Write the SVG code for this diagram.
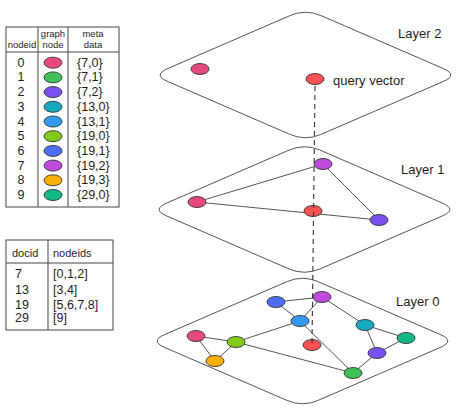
<svg xmlns="http://www.w3.org/2000/svg" width="474" height="419" viewBox="0 0 474 419">
<style>
  text { font-family: "Liberation Sans", Arial, sans-serif; fill: #1e1e1e; }
  .hdr { font-size: 9.5px; text-anchor: middle; }
  .cell { font-size: 12.5px; }
  .mid { text-anchor: middle; }
  .lbl { font-size: 13px; }
  .grid { fill: none; stroke: #444; stroke-width: 1; }
  .layer { fill: none; stroke: #555; stroke-width: 1; }
  .edge { stroke: #555; stroke-width: 1; fill: none; }
  .node { stroke: #333; stroke-width: 0.9; }
  .dash { stroke: #333; stroke-width: 1.1; stroke-dasharray: 5 4; fill: none; }
  .c0 { fill: #e64980; } .c1 { fill: #40c057; } .c2 { fill: #7950f2; }
  .c3 { fill: #15aabf; } .c4 { fill: #339af0; } .c5 { fill: #82c91e; }
  .c6 { fill: #4c6ef5; } .c7 { fill: #be4bdb; } .c8 { fill: #fab005; }
  .c9 { fill: #12b886; } .cq { fill: #fa5252; }
</style>
<defs>
  <path id="plane" d="M -15.3 -59.5 Q 0 -66 15.3 -59.5 L 137.7 -6.5 Q 153 0 137.7 6.5 L 15.3 59.5 Q 0 66 -15.3 59.5 L -137.7 6.5 Q -153 0 -137.7 -6.5 Z"/>
  <ellipse id="dot" cx="0" cy="0" rx="9" ry="5.5"/>
</defs>

<!-- node metadata table -->
<g id="node-table">
  <rect class="grid" x="6" y="27" width="113" height="180"/>
  <line class="grid" x1="38" y1="27" x2="38" y2="207"/>
  <line class="grid" x1="68" y1="27" x2="68" y2="207"/>
  <line class="grid" x1="6" y1="52" x2="119" y2="52"/>
  <text class="hdr" x="22" y="48">nodeid</text>
  <text class="hdr" x="53" y="37">graph</text>
  <text class="hdr" x="53" y="48">node</text>
  <text class="hdr" x="93" y="37">meta</text>
  <text class="hdr" x="93" y="48">data</text>
  <g class="cell">
    <text class="mid" x="21" y="67">0</text>
    <text class="mid" x="21" y="81.4">1</text>
    <text class="mid" x="21" y="96.1">2</text>
    <text class="mid" x="21" y="110.8">3</text>
    <text class="mid" x="21" y="125.5">4</text>
    <text class="mid" x="21" y="140.2">5</text>
    <text class="mid" x="21" y="154.9">6</text>
    <text class="mid" x="21" y="169.6">7</text>
    <text class="mid" x="21" y="184.3">8</text>
    <text class="mid" x="21" y="199">9</text>
    <text x="77" y="67">{7,0}</text>
    <text x="77" y="81.4">{7,1}</text>
    <text x="77" y="96.1">{7,2}</text>
    <text x="77" y="110.8">{13,0}</text>
    <text x="77" y="125.5">{13,1}</text>
    <text x="77" y="140.2">{19,0}</text>
    <text x="77" y="154.9">{19,1}</text>
    <text x="77" y="169.6">{19,2}</text>
    <text x="77" y="184.3">{19,3}</text>
    <text x="77" y="199">{29,0}</text>
  </g>
  <use href="#dot" class="node c0" x="53" y="62.7"/>
  <use href="#dot" class="node c1" x="53" y="77.4"/>
  <use href="#dot" class="node c2" x="53" y="92.1"/>
  <use href="#dot" class="node c3" x="53" y="106.8"/>
  <use href="#dot" class="node c4" x="53" y="121.5"/>
  <use href="#dot" class="node c5" x="53" y="136.2"/>
  <use href="#dot" class="node c6" x="53" y="150.9"/>
  <use href="#dot" class="node c7" x="53" y="165.6"/>
  <use href="#dot" class="node c8" x="53" y="180.3"/>
  <use href="#dot" class="node c9" x="53" y="195"/>
</g>

<!-- document table -->
<g id="doc-table">
  <rect class="grid" x="6" y="240" width="107" height="90"/>
  <line class="grid" x1="48" y1="240" x2="48" y2="330"/>
  <line class="grid" x1="6" y1="263" x2="113" y2="263"/>
  <text class="cell" x="12" y="257" style="font-size:11px">docid</text>
  <text class="cell" x="53" y="257" style="font-size:11px">nodeids</text>
  <g class="cell">
    <text x="15" y="278">7</text>
    <text x="15" y="294">13</text>
    <text x="15" y="309">19</text>
    <text x="15" y="322">29</text>
    <text x="53" y="278">[0,1,2]</text>
    <text x="53" y="294">[3,4]</text>
    <text x="53" y="309">[5,6,7,8]</text>
    <text x="53" y="322">[9]</text>
  </g>
</g>

<!-- layer planes -->
<g id="layer2"><use href="#plane" class="layer" x="305.5" y="75"/><text class="lbl" x="398" y="38">Layer 2</text></g>
<g id="layer1"><use href="#plane" class="layer" x="304.5" y="209.5"/><text class="lbl" x="401" y="174">Layer 1</text></g>
<g id="layer0"><use href="#plane" class="layer" x="302.5" y="341"/><text class="lbl" x="396" y="306">Layer 0</text></g>

<!-- connectors -->
<g id="connectors">
  <!-- layer 1 -->
  <line class="edge" x1="197" y1="202" x2="323" y2="164"/>
  <line class="edge" x1="197" y1="202" x2="379" y2="220"/>
  <line class="edge" x1="323" y1="164" x2="379" y2="220"/>
  <!-- layer 0 -->
  <line class="edge" x1="276" y1="302" x2="322" y2="297"/>
  <line class="edge" x1="276" y1="302" x2="300" y2="321"/>
  <line class="edge" x1="322" y1="297" x2="300" y2="321"/>
  <line class="edge" x1="300" y1="321" x2="236" y2="342"/>
  <line class="edge" x1="300" y1="321" x2="353" y2="373"/>
  <line class="edge" x1="322" y1="297" x2="365" y2="325"/>
  <line class="edge" x1="365" y1="325" x2="406" y2="338"/>
  <line class="edge" x1="365" y1="325" x2="377" y2="353"/>
  <line class="edge" x1="406" y1="338" x2="377" y2="353"/>
  <line class="edge" x1="377" y1="353" x2="353" y2="373"/>
  <line class="edge" x1="236" y1="342" x2="353" y2="373"/>
  <line class="edge" x1="196" y1="336" x2="236" y2="342"/>
  <line class="edge" x1="196" y1="336" x2="215" y2="361"/>
  <line class="edge" x1="215" y1="361" x2="236" y2="342"/>
</g>

<!-- layer 2 nodes -->
<g id="l2-n0"><use href="#dot" class="node c0" x="200" y="69"/></g>
<g id="l2-query"><use href="#dot" class="node cq" x="315" y="79"/><text class="lbl" x="333" y="85">query vector</text></g>

<!-- layer 1 nodes -->
<g id="l1-n7"><use href="#dot" class="node c7" x="323" y="164"/></g>
<g id="l1-n0"><use href="#dot" class="node c0" x="197" y="202"/></g>
<g id="l1-query"><use href="#dot" class="node cq" x="313" y="211"/></g>
<g id="l1-n2"><use href="#dot" class="node c2" x="379" y="220"/></g>

<!-- layer 0 nodes -->
<g id="l0-n6"><use href="#dot" class="node c6" x="276" y="302"/></g>
<g id="l0-n7"><use href="#dot" class="node c7" x="322" y="297"/></g>
<g id="l0-n4"><use href="#dot" class="node c4" x="300" y="321"/></g>
<g id="l0-n3"><use href="#dot" class="node c3" x="365" y="325"/></g>
<g id="l0-n9"><use href="#dot" class="node c9" x="406" y="338"/></g>
<g id="l0-n2"><use href="#dot" class="node c2" x="377" y="353"/></g>
<g id="l0-n1"><use href="#dot" class="node c1" x="353" y="373"/></g>
<g id="l0-n0"><use href="#dot" class="node c0" x="196" y="336"/></g>
<g id="l0-n5"><use href="#dot" class="node c5" x="236" y="342"/></g>
<g id="l0-n8"><use href="#dot" class="node c8" x="215" y="361"/></g>
<g id="l0-query"><use href="#dot" class="node cq" x="312" y="345"/></g>

<!-- query descent -->
<g id="query-path">
  <line class="dash" x1="315" y1="86" x2="312" y2="346"/>
</g>
</svg>
